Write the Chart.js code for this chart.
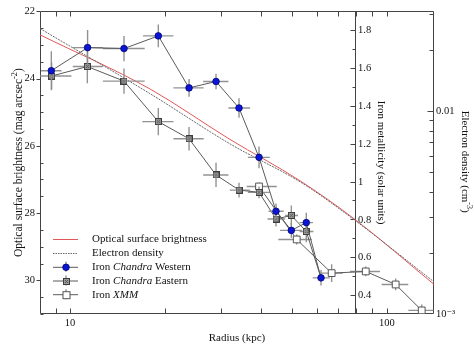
<!DOCTYPE html>
<html><head><meta charset="utf-8">
<script src="https://cdn.jsdelivr.net/npm/chart.js@4/dist/chart.umd.min.js"></script>
<style>html,body{margin:0;padding:0;background:#fff}#wrap{width:474px;height:355px;position:relative}</style>
</head><body><div id="wrap"><canvas id="c"></canvas></div>
<script>
// ---- model curves ----
const sbRadius = [8.04, 17.88, 31.97, 53.2, 79.3, 140.7];
const opticalSB = [22.70, 24.31, 25.81, 27.04, 28.19, 30.12];
const neRadius = [8.04, 17.88, 31.97, 54.3, 79.3, 140.7];
const electronDensity = [0.0255, 0.01218, 0.00689, 0.00439, 0.00289, 0.00144];

// ---- Iron Chandra Western ----
const westRadius = [8.73, 11.36, 14.8, 18.99, 23.74, 28.88, 34.13, 39.47, 44.65, 49.91, 55.64, 61.92];
const westFe     = [1.586, 1.708, 1.703, 1.770, 1.495, 1.529, 1.389, 1.128, 0.843, 0.742, 0.783, 0.491];
const westFeErr  = [0.103, 0.093, 0.067, 0.060, 0.047, 0.041, 0.052, 0.057, 0.041, 0.039, 0.052, 0.041];
const westRLo    = [8.1, 10.2, 12.7, 17.0, 21.2, 26.3, 31.6, 36.4, 42.3, 46.0, 53.0, 58.3];
const westRHi    = [9.4, 12.7, 17.2, 21.2, 26.4, 31.6, 37.0, 42.7, 47.2, 53.9, 58.4, 66.0];

// ---- Iron Chandra Eastern ----
const eastRadius = [8.75, 11.34, 14.8, 18.99, 23.74, 28.88, 34.13, 39.47, 44.65, 49.91, 55.64, 61.92];
const eastFe     = [1.558, 1.608, 1.531, 1.317, 1.226, 1.035, 0.955, 0.943, 0.802, 0.821, 0.736, 0.491];
const eastFeErr  = [0.070, 0.088, 0.067, 0.072, 0.062, 0.064, 0.039, 0.031, 0.039, 0.052, 0.057, 0.040];
const eastRLo    = [7.6, 10.2, 12.7, 16.9, 21.2, 26.3, 31.9, 36.4, 42.0, 47.7, 53.0, 58.3];
const eastRHi    = [10.1, 12.7, 17.2, 21.2, 26.4, 31.6, 37.0, 42.7, 47.7, 52.4, 58.6, 66.0];

// ---- Iron XMM ----
const xmmRadius = [39.47, 51.9, 66.9, 85.7, 106.5, 128.7];
const xmmFe     = [0.974, 0.694, 0.516, 0.525, 0.456, 0.319];
const xmmFeErr  = [0.021, 0.026, 0.047, 0.026, 0.031, 0.031];
const xmmRLo    = [36.1, 45.4, 61.5, 76.4, 96.2, 116.7];
const xmmRHi    = [44.9, 57.9, 72.6, 95.0, 116.7, 140.0];

// ---- tick labels ----
const xTickLabels  = [10, 100];
const sbTickLabels = [22, 24, 26, 28, 30];
const feTickLabels = [0.4, 0.6, 0.8, 1, 1.2, 1.4, 1.6, 1.8];
const neTickValues = [0.001, 0.01];
const neTickText   = ['10\u207B\u00B3', '0.01'];
const feAxisRadius = 79.3;

const xTitle  = 'Radius (kpc)';
const sbTitle = [{t:'Optical surface brightness (mag arcsec'},{t:'-2',sup:true},{t:')'}];
const feTitle = [{t:'Iron metallicity (solar units)'}];
const neTitle = [{t:'Electron density (cm'},{t:'-3',sup:true},{t:')'}];
const legendLabels = [
  [{t:'Optical surface brightness'}],
  [{t:'Electron density'}],
  [{t:'Iron '},{t:'Chandra',italic:true},{t:' Western'}],
  [{t:'Iron '},{t:'Chandra',italic:true},{t:' Eastern'}],
  [{t:'Iron '},{t:'XMM',italic:true}]
];

const SERIF = '"Liberation Serif","Times New Roman","DejaVu Serif",serif';
const RED = 'rgb(226,88,88)';
const MODELGRAY = '#6a6a6a';
const LINEGRAY = '#5a5a5a';
const ERRGRAY = 'rgba(140,140,140,0.95)';
const BLUE = '#0a16d4';

function fnt(sz, it){ return (it?'italic ':'') + sz + 'px ' + SERIF; }
function drawRich(ctx, parts, size, x, y, rot, align){
  ctx.save(); ctx.translate(x, y); ctx.rotate(rot);
  ctx.textBaseline = 'middle'; ctx.textAlign = 'left'; ctx.fillStyle = '#111';
  let w = 0;
  parts.forEach(p => { ctx.font = fnt(p.sup ? size*0.72 : size, p.italic); p.w = ctx.measureText(p.t).width; w += p.w; });
  let cx = align === 'left' ? 0 : -w/2;
  parts.forEach(p => { ctx.font = fnt(p.sup ? size*0.72 : size, p.italic); ctx.fillText(p.t, cx, p.sup ? -size*0.38 : 0); cx += p.w; });
  ctx.restore();
}

function makeHatch(){
  const c = document.createElement('canvas'); c.width = 7; c.height = 7;
  const g = c.getContext('2d');
  g.fillStyle = '#3c3c3c'; g.fillRect(0,0,7,7);
  g.fillStyle = '#9a9a9a'; g.fillRect(1,1,5,5);
  g.fillStyle = '#555'; g.fillRect(2,2,1,1); g.fillRect(4,2,1,1); g.fillRect(3,3,1,1); g.fillRect(2,4,1,1); g.fillRect(4,4,1,1);
  return c;
}
const hatch = makeHatch();

function isNice(v){
  const e = Math.floor(Math.log10(v) + 1e-9);
  const m = v / Math.pow(10, e);
  return Math.abs(m - Math.round(m)) < 1e-6;
}
function near(a, b){ return Math.abs(a - b) < 1e-6 * Math.max(1, Math.abs(b)); }

const pts = (xs, ys) => xs.map((r, i) => ({x: r, y: ys[i]}));

const errorBars = {
  id: 'errorBars',
  beforeDatasetDraw(chart, args){
    const ds = chart.data.datasets[args.index];
    if (!ds.errFe) return;
    const xs = chart.scales.x, ys = chart.scales.yFe, ctx = chart.ctx, ca = chart.chartArea;
    ctx.save();
    ctx.beginPath(); ctx.rect(ca.left, ca.top, ca.right - ca.left, ca.bottom - ca.top); ctx.clip();
    ctx.strokeStyle = ERRGRAY; ctx.lineWidth = 1.4;
    ds.data.forEach((p, i) => {
      if (ds.hideIdx === i) return;
      const px = xs.getPixelForValue(p.x), py = ys.getPixelForValue(p.y);
      ctx.beginPath();
      ctx.moveTo(xs.getPixelForValue(ds.rLo[i]), py); ctx.lineTo(xs.getPixelForValue(ds.rHi[i]), py);
      ctx.moveTo(px, ys.getPixelForValue(p.y - ds.errFe[i])); ctx.lineTo(px, ys.getPixelForValue(p.y + ds.errFe[i]));
      ctx.stroke();
    });
    ctx.restore();
  }
};

const axesDeco = {
  id: 'axesDeco',
  beforeDatasetsDraw(chart){
    const {ctx, chartArea: ca, scales} = chart;
    const xs = scales.x, sb = scales.ySB, ne = scales.yNe, fe = scales.yFe;
    const L = Math.round(ca.left) + 0.5, R = Math.round(ca.right) - 0.5, T = Math.round(ca.top) + 0.5, B = Math.round(ca.bottom) - 0.5;
    ctx.save();
    ctx.strokeStyle = '#444'; ctx.lineWidth = 1;
    ctx.beginPath();
    ctx.moveTo(L, T); ctx.lineTo(R, T); ctx.lineTo(R, B); ctx.lineTo(L, B); ctx.closePath();
    // x ticks bottom & top (inward)
    xs.ticks.forEach(t => {
      if (!isNice(t.value)) return;
      const px = Math.round(xs.getPixelForValue(t.value)) + 0.5;
      if (px <= L + 1 || px >= R - 1) return;
      ctx.moveTo(px, B); ctx.lineTo(px, B - 5);
      ctx.moveTo(px, T); ctx.lineTo(px, T + 5);
    });
    // left ticks
    sb.ticks.forEach(t => {
      const py = Math.round(sb.getPixelForValue(t.value)) + 0.5;
      if (sbTickLabels.some(v => near(v, t.value))) { ctx.moveTo(L - 4, py); ctx.lineTo(L, py); }
      else { ctx.moveTo(L, py); ctx.lineTo(L + 3, py); }
    });
    // right ticks (inward)
    ne.ticks.forEach(t => {
      if (!isNice(t.value)) return;
      const py = Math.round(ne.getPixelForValue(t.value)) + 0.5;
      if (py >= B - 1) return;
      const major = neTickValues.some(v => near(v, t.value));
      ctx.moveTo(R, py); ctx.lineTo(R - (major ? 6 : 4), py);
    });
    // iron metallicity axis
    const ax = Math.round(xs.getPixelForValue(feAxisRadius)) + 0.5;
    ctx.moveTo(ax, T); ctx.lineTo(ax, B);
    for (let k = 3; k <= 19; k++) {
      const v = k / 10;
      const py = Math.round(fe.getPixelForValue(v)) + 0.5;
      if (py <= T + 1 || py >= B - 1) continue;
      const major = feTickLabels.some(f => near(f, v));
      ctx.moveTo(ax - (major ? 5 : 3), py); ctx.lineTo(ax, py);
    }
    ctx.stroke();
    ctx.fillStyle = '#111'; ctx.font = fnt(10.5); ctx.textAlign = 'left'; ctx.textBaseline = 'middle';
    feTickLabels.forEach(v => ctx.fillText(String(v), ax + 2.5, fe.getPixelForValue(v) + 0.5));
    ctx.restore();
  },
  afterDraw(chart){
    const {ctx, chartArea: ca} = chart;
    const cy = (ca.top + ca.bottom) / 2;
    const xs = chart.scales.x;
    // axis titles
    ctx.save();
    ctx.fillStyle = '#111'; ctx.font = fnt(11); ctx.textAlign = 'center'; ctx.textBaseline = 'middle';
    ctx.fillText(xTitle, (ca.left + ca.right) / 2, 338);
    ctx.restore();
    drawRich(ctx, sbTitle, 11.5, 19, cy, -Math.PI/2);
    const ax = xs.getPixelForValue(feAxisRadius);
    drawRich(ctx, feTitle, 11, ax + 26, cy, Math.PI/2);
    drawRich(ctx, neTitle, 11, 465, cy - 1, Math.PI/2);
    // legend
    const rowsY = [239, 253, 266.8, 280.5, 294.2];
    const x0 = 53, x1 = 78, xm = 66;
    ctx.save();
    rowsY.forEach((y, i) => {
      ctx.beginPath(); ctx.lineWidth = 1; ctx.setLineDash([]);
      if (i === 0) { ctx.strokeStyle = RED; ctx.moveTo(x0, y + 0.5); ctx.lineTo(x1, y + 0.5); ctx.stroke(); }
      else if (i === 1) { ctx.strokeStyle = MODELGRAY; ctx.setLineDash([1.5, 1]); ctx.moveTo(x0, y + 0.5); ctx.lineTo(x1, y + 0.5); ctx.stroke(); }
      else {
        ctx.strokeStyle = LINEGRAY; ctx.moveTo(x0, y + 0.5); ctx.lineTo(x1, y + 0.5); ctx.stroke();
        ctx.beginPath(); ctx.strokeStyle = ERRGRAY; ctx.lineWidth = 1.4; ctx.moveTo(xm, y - 5); ctx.lineTo(xm, y + 5); ctx.stroke();
        if (i === 2) { ctx.beginPath(); ctx.fillStyle = BLUE; ctx.strokeStyle = '#00007a'; ctx.lineWidth = 0.8; ctx.arc(xm, y + 0.5, 3.3, 0, Math.PI*2); ctx.fill(); ctx.stroke(); }
        if (i === 3) { ctx.drawImage(hatch, Math.round(xm - 3.5), Math.round(y - 3)); }
        if (i === 4) { ctx.fillStyle = '#fff'; ctx.strokeStyle = '#555'; ctx.lineWidth = 1; ctx.fillRect(xm - 3, y - 2.5, 7, 7); ctx.strokeRect(xm - 3 + 0.0, y - 2.5, 7, 7); }
      }
      drawRich(ctx, legendLabels[i], 11, 92, y + 0.5, 0, 'left');
    });
    ctx.restore();
  }
};

new Chart(document.getElementById('c'), {
  type: 'line',
  data: {
    datasets: [
      { label: 'Iron Chandra Western', data: pts(westRadius, westFe), xAxisID: 'x', yAxisID: 'yFe',
        borderColor: LINEGRAY, borderWidth: 1, tension: 0, fill: false,
        pointStyle: 'circle', pointRadius: 3.3, pointBackgroundColor: BLUE, pointBorderColor: '#00007a', pointBorderWidth: 0.8,
        errFe: westFeErr, rLo: westRLo, rHi: westRHi },
      { label: 'Iron Chandra Eastern', data: pts(eastRadius, eastFe), xAxisID: 'x', yAxisID: 'yFe',
        borderColor: LINEGRAY, borderWidth: 1, tension: 0, fill: false,
        pointStyle: hatch, pointRadius: c => c.dataIndex === eastFe.length - 1 ? 0 : 3.5,
        errFe: eastFeErr, rLo: eastRLo, rHi: eastRHi, hideIdx: eastFe.length - 1 },
      { label: 'Iron XMM', data: pts(xmmRadius, xmmFe), xAxisID: 'x', yAxisID: 'yFe',
        borderColor: LINEGRAY, borderWidth: 1, tension: 0, fill: false,
        pointStyle: 'rect', pointRadius: 4.8, pointBackgroundColor: '#fff', pointBorderColor: '#555', pointBorderWidth: 1,
        errFe: xmmFeErr, rLo: xmmRLo, rHi: xmmRHi },
      { label: 'Electron density', data: pts(neRadius, electronDensity), xAxisID: 'x', yAxisID: 'yNe',
        borderColor: MODELGRAY, borderWidth: 1, borderDash: [2, 1], pointRadius: 0, fill: false,
        cubicInterpolationMode: 'monotone' },
      { label: 'Optical surface brightness', data: pts(sbRadius, opticalSB), xAxisID: 'x', yAxisID: 'ySB',
        borderColor: RED, borderWidth: 1, pointRadius: 0, fill: false,
        cubicInterpolationMode: 'monotone' }
    ]
  },
  options: {
    responsive: true, maintainAspectRatio: false, animation: false, events: [],
    layout: { padding: { top: 5, left: 0, right: 0, bottom: 0 } },
    plugins: { legend: { display: false }, tooltip: { enabled: false } },
    scales: {
      x: { type: 'logarithmic', position: 'bottom', min: 8.04, max: 140.7,
        afterFit(s){ s.height = 41; },
        grid: { display: false, drawTicks: false }, border: { display: false },
        ticks: { autoSkip: false, maxRotation: 0, padding: 3, color: '#111', font: { family: SERIF, size: 10.5 },
          callback: v => { const f = xTickLabels.find(t => near(t, v)); return f !== undefined ? String(f) : ''; } } },
      ySB: { type: 'linear', position: 'left', reverse: true, min: 22, max: 31,
        afterFit(s){ s.width = 40; },
        grid: { display: false, drawTicks: false }, border: { display: false },
        ticks: { stepSize: 0.5, autoSkip: false, padding: 5, color: '#111', font: { family: SERIF, size: 10.5 },
          callback: v => { const f = sbTickLabels.find(t => near(t, v)); return f !== undefined ? String(f) : ''; } } },
      yNe: { type: 'logarithmic', position: 'right', min: 0.001, max: 0.031,
        afterFit(s){ s.width = 40; },
        grid: { display: false, drawTicks: false }, border: { display: false },
        ticks: { autoSkip: false, padding: 2, color: '#111', font: { family: SERIF, size: 10.5 },
          callback: v => { const k = neTickValues.findIndex(t => near(t, v)); return k >= 0 ? neTickText[k] : ''; } } },
      yFe: { type: 'linear', display: false, min: 0.3, max: 1.9 }
    }
  },
  plugins: [errorBars, axesDeco]
});
</script>
</body></html>
